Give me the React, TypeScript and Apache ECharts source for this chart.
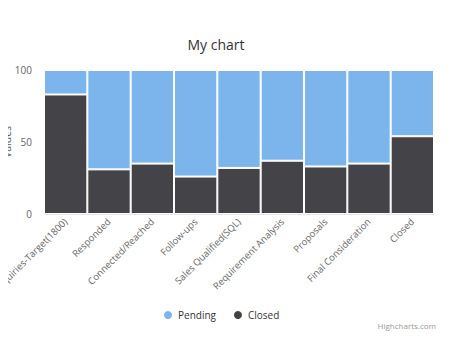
import React, { useEffect, useRef } from "react";
import * as echarts from "echarts";

const categories = [
  "Enquiries-Target(1800)",
  "Responded",
  "Connected/Reached",
  "Follow-ups",
  "Sales Qualified(SQL)",
  "Requirement Analysis",
  "Proposals",
  "Final Consideration",
  "Closed",
];
const closedValues = [83, 31, 35, 26, 32, 37, 33, 35, 54];
const pendingValues = [17, 69, 65, 74, 68, 63, 67, 65, 46];
const yAxisTitle = "Values";

const FONT = "'Open Sans', 'Noto Sans', sans-serif";

export default function App() {
  const ref = useRef<HTMLDivElement>(null);
  useEffect(() => {
    if (!ref.current) return;
    const chart = echarts.init(ref.current, undefined, { renderer: "svg" });
    chart.setOption({
      animation: false,
      textStyle: { fontFamily: FONT },
      title: {
        text: "My chart",
        left: 211,
        top: 32,
        textAlign: "center",
        textStyle: { fontSize: 14, fontWeight: "normal", color: "#333333", fontFamily: FONT },
      },
      legend: {
        data: ["Pending", "Closed"],
        left: 157,
        top: 304,
        itemWidth: 10,
        itemHeight: 10,
        icon: "circle",
        itemGap: 16,
        textStyle: { fontSize: 10, color: "#333333", fontFamily: FONT },
      },
      grid: {
        left: 44,
        right: 40,
        top: 70,
        bottom: 150,
        containLabel: false,
        outerBoundsMode: "none",
      },
      xAxis: {
        type: "category",
        data: categories,
        axisTick: { show: false },
        axisLine: { show: false },
        axisLabel: {
          rotate: 45,
          fontSize: 9.5,
          color: "#666666",
          margin: 6,
          interval: 0,
          fontFamily: FONT,
        },
      },
      yAxis: {
        type: "value",
        min: 0,
        max: 100,
        interval: 50,
        axisLabel: { fontSize: 10, color: "#666666", margin: 12, fontFamily: FONT },
        splitLine: { show: true, lineStyle: { color: "#e6e6e6" } },
        axisLine: { show: false },
        axisTick: { show: false },
      },
      series: [
        {
          name: "Closed",
          type: "bar",
          stack: "total",
          data: closedValues,
          barCategoryGap: 0,
          itemStyle: { color: "#434348", borderColor: "#ffffff", borderWidth: 1 },
        },
        {
          name: "Pending",
          type: "bar",
          stack: "total",
          data: pendingValues,
          barCategoryGap: 0,
          itemStyle: { color: "#7cb5ec", borderColor: "#ffffff", borderWidth: 1 },
        },
      ],
      graphic: [
        {
          type: "text",
          x: 12,
          y: 142,
          rotation: Math.PI / 2,
          style: {
            text: yAxisTitle,
            fontSize: 10.5,
            fill: "#555555",
            fontFamily: FONT,
            align: "center",
            verticalAlign: "bottom",
          },
        },
        {
          type: "text",
          right: 38,
          top: 321,
          style: { text: "Highcharts.com", fontSize: 8, fill: "#999999", fontFamily: FONT },
        },
      ],
    });
    return () => chart.dispose();
  }, []);
  return <div ref={ref} style={{ width: 474, height: 364, margin: -8 }} />;
}
